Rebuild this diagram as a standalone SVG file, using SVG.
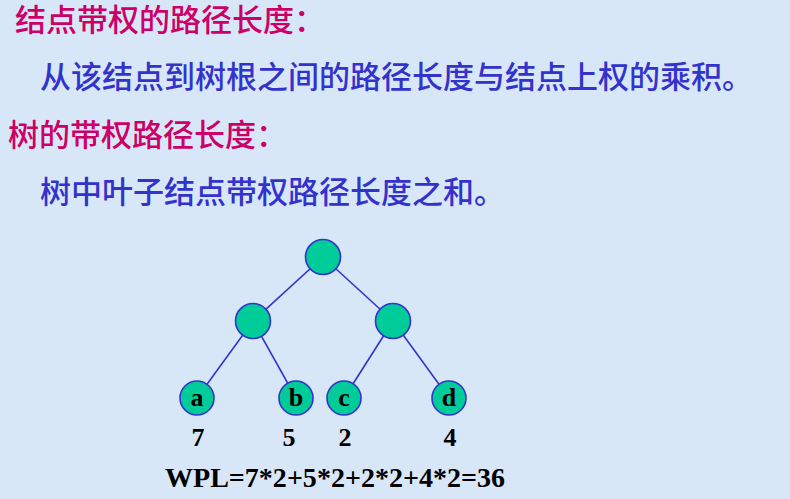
<svg xmlns="http://www.w3.org/2000/svg" width="790" height="499" viewBox="0 0 790 499">
<style>
.h{font-family:"Noto Sans CJK SC",sans-serif;font-size:31px;font-weight:500;fill:#cc0066}
.b{font-family:"Noto Sans CJK SC",sans-serif;font-size:31px;font-weight:500;fill:#3333cc}
.n{fill:#00cc99;stroke:#3333cc;stroke-width:1.6}
.e{stroke:#3333cc;stroke-width:1.6;fill:none}
.l{font-family:"Liberation Serif",serif;font-weight:bold;font-size:26px;fill:#000;text-anchor:middle}
.w{font-family:"Liberation Serif",serif;font-weight:bold;font-size:26px;fill:#000;text-anchor:middle}
</style>
<rect width="790" height="499" fill="#d8e7f8"/>
<text class="h" x="15" y="31">结点带权的路径长度：</text>
<text class="b" x="40" y="88">从该结点到树根之间的路径长度与结点上权的乘积。</text>
<text class="h" x="8" y="146">树的带权路径长度：</text>
<text class="b" x="40" y="203">树中叶子结点带权路径长度之和。</text>
<g id="edges">
<line class="e" x1="323" y1="257" x2="253" y2="321"/>
<line class="e" x1="323" y1="257" x2="393" y2="321"/>
<line class="e" x1="253" y1="321" x2="197" y2="398"/>
<line class="e" x1="253" y1="321" x2="296" y2="398"/>
<line class="e" x1="393" y1="321" x2="344" y2="398"/>
<line class="e" x1="393" y1="321" x2="449" y2="398"/>
</g>
<g id="root"><circle class="n" cx="323" cy="257" r="17.5"/></g>
<g id="left"><circle class="n" cx="253" cy="321" r="17.5"/></g>
<g id="right"><circle class="n" cx="393" cy="321" r="17.5"/></g>
<g id="a"><circle class="n" cx="197" cy="398" r="17"/><text class="l" x="197" y="406">a</text></g>
<g id="b"><circle class="n" cx="296" cy="398" r="17"/><text class="l" x="296" y="406">b</text></g>
<g id="c"><circle class="n" cx="344" cy="398" r="17"/><text class="l" x="344" y="406">c</text></g>
<g id="d"><circle class="n" cx="449" cy="398" r="17"/><text class="l" x="449" y="406">d</text></g>
<text class="w" x="198" y="446">7</text>
<text class="w" x="289" y="446">5</text>
<text class="w" x="345" y="446">2</text>
<text class="w" x="450" y="446">4</text>
<text x="165" y="487" font-family="Liberation Serif,serif" font-weight="bold" font-size="27" textLength="340" lengthAdjust="spacingAndGlyphs">WPL=7*2+5*2+2*2+4*2=36</text>
</svg>
